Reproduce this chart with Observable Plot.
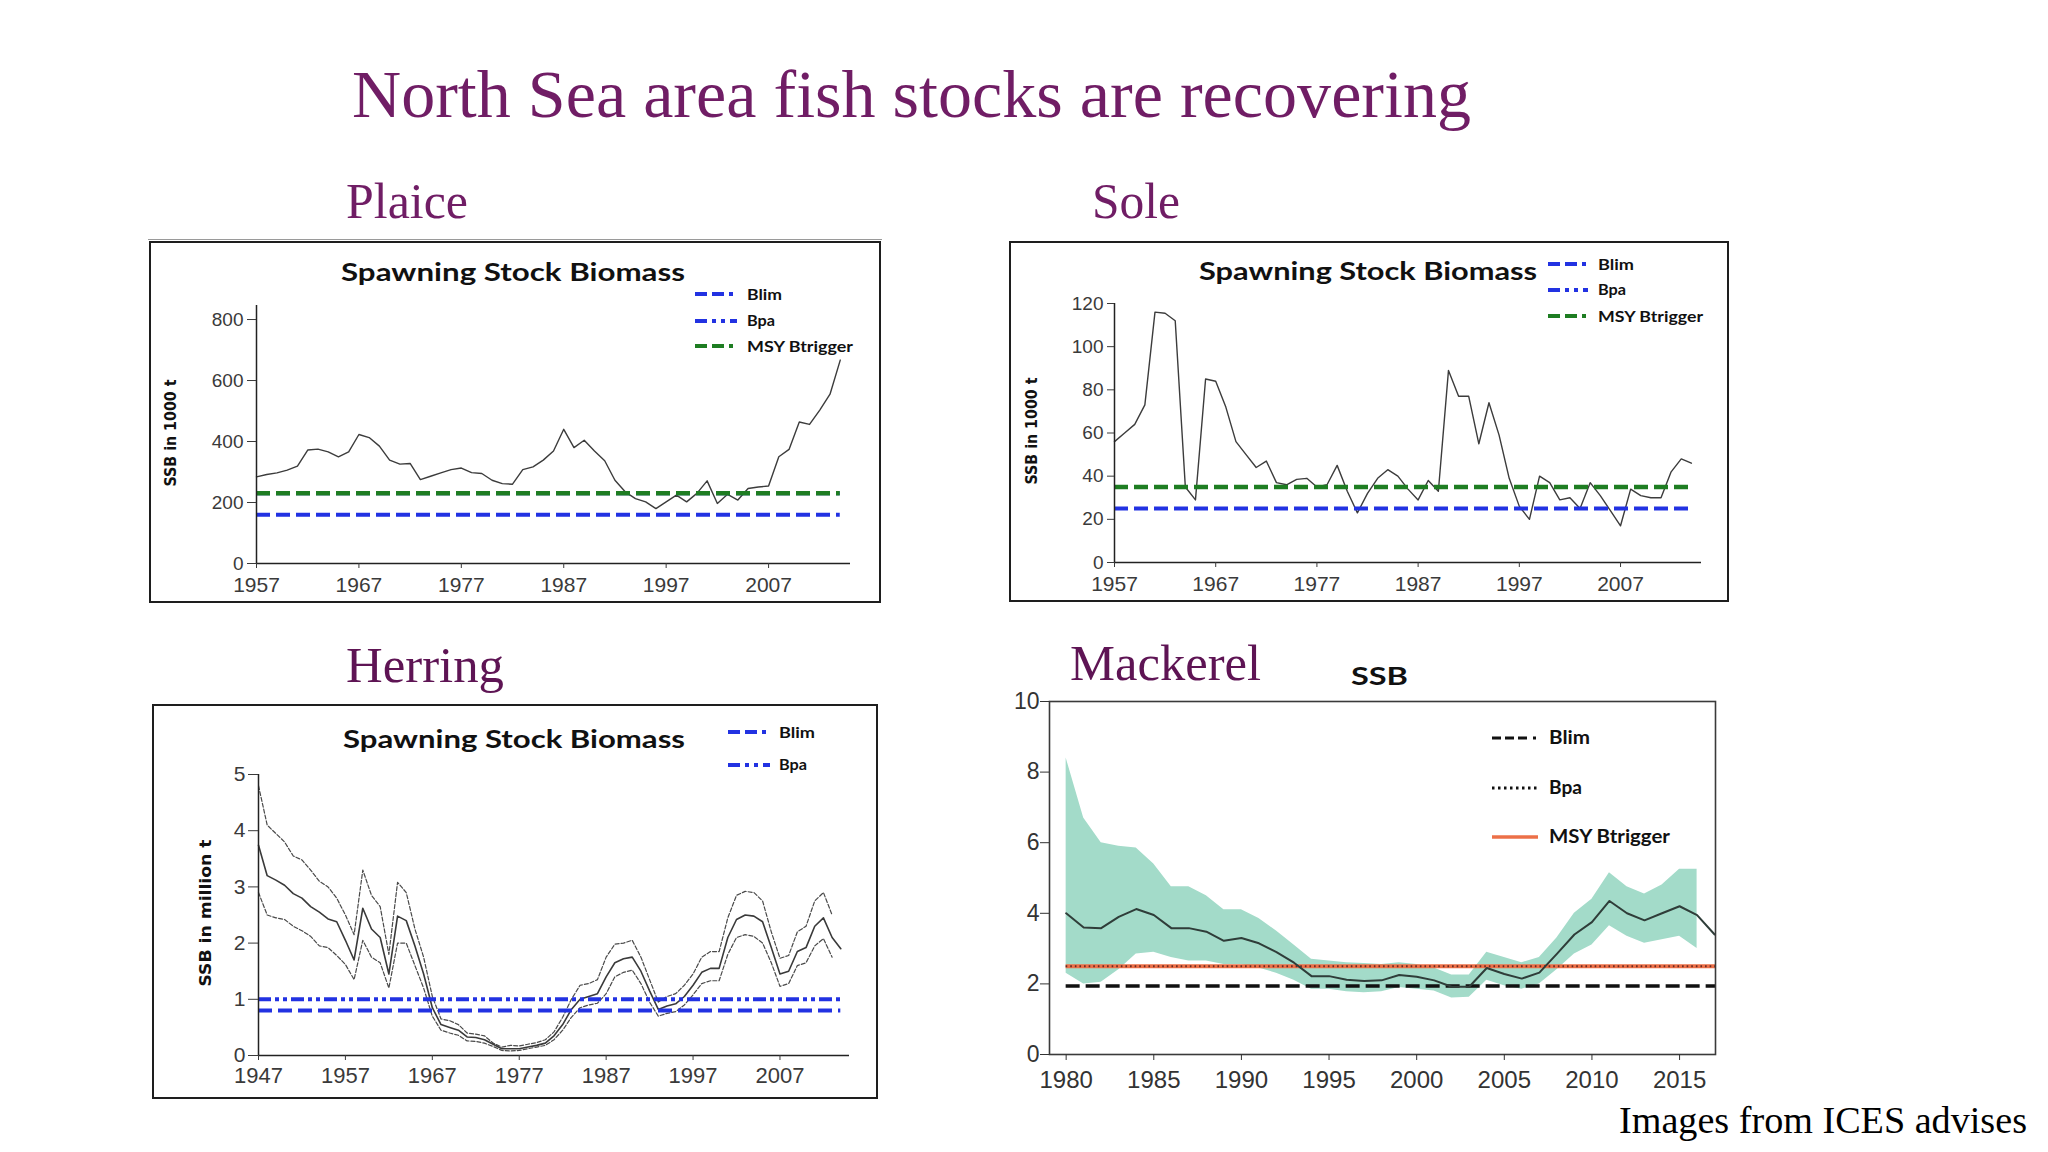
<!DOCTYPE html>
<html>
<head>
<meta charset="utf-8">
<script src="https://cdn.jsdelivr.net/npm/d3@7"></script>
<script src="https://cdn.jsdelivr.net/npm/@observablehq/plot@0.6"></script>
<style>
  html, body { margin: 0; padding: 0; background: #fff; }
  #page { position: relative; width: 2048px; height: 1152px; overflow: hidden; background: #fff; }
  .abs { position: absolute; }
</style>
</head>
<body>
<div id="page"></div>
<script>
// ---------------- DATA ----------------
// Plaice (SSB in 1000 t), 1957-2014
const plaiceStart = 1957;
const plaiceSSB = [284,292,297,306,319,372,375,366,350,366,
                   423,413,385,339,326,328,275,286,297,308,
                   313,298,295,273,262,260,308,317,339,369,
                   440,380,404,369,337,273,235,213,202,180,
                   202,224,202,230,271,197,227,208,246,251,
                   254,350,374,464,456,503,555,667];
const plaiceYTicks = [0,200,400,600,800];
const plaiceXTicks = [1957,1967,1977,1987,1997,2007];
const plaiceXDomain = [1957, 2015];
const plaiceYDomain = [0, 846];
const plaiceBlim = 160, plaiceBpa = 230, plaiceMSY = 230;

// Sole (SSB in 1000 t), 1957-2014
const soleStart = 1957;
const soleSSB = [56,60,64,73,116,115.5,112,35,29,85,
                 84,72,56,50,44,47,37,36,38.5,39,
                 35,36,45,33,23,32,39,43,40,34,
                 29,38,33,89,77,77,55,74,59,39,
                 26,20,40,37,29,30,25,37,31,24,
                 17,34,31,30,30,42,48,46];
const soleYTicks = [0,20,40,60,80,100,120];
const soleXTicks = [1957,1967,1977,1987,1997,2007];
const soleXDomain = [1957, 2015];
const soleYDomain = [0, 120];
const soleBlim = 25, soleBpa = 35, soleMSY = 35;

// Herring (SSB in million t), 1947-2014 (bounds to 2013)
const herringStart = 1947;
const herringSSB = [3.74,3.2,3.12,3.03,2.88,2.8,2.65,2.55,2.43,2.38,
                    2.05,1.7,2.62,2.25,2.1,1.45,2.48,2.4,1.95,1.45,
                    0.85,0.55,0.5,0.45,0.33,0.32,0.28,0.2,0.12,0.12,
                    0.12,0.15,0.18,0.22,0.35,0.55,0.82,1.0,1.05,1.1,
                    1.4,1.65,1.72,1.75,1.5,1.15,0.82,0.88,0.92,1.05,
                    1.25,1.48,1.55,1.55,2.1,2.42,2.5,2.48,2.38,1.92,
                    1.45,1.5,1.85,1.92,2.3,2.45,2.1,1.9];
const herringUpper = [4.8,4.1,3.95,3.8,3.55,3.48,3.3,3.1,3.0,2.8,
                      2.5,2.15,3.3,2.85,2.65,1.8,3.08,2.9,2.25,1.75,
                      1.05,0.65,0.62,0.55,0.4,0.38,0.35,0.22,0.15,0.18,
                      0.17,0.2,0.23,0.28,0.42,0.68,1.0,1.25,1.28,1.35,
                      1.75,1.98,2.0,2.05,1.75,1.35,0.95,1.05,1.1,1.25,
                      1.45,1.75,1.85,1.85,2.45,2.85,2.92,2.9,2.75,2.2,
                      1.73,1.78,2.2,2.3,2.75,2.9,2.5];
const herringLower = [2.9,2.5,2.45,2.42,2.3,2.22,2.12,1.95,1.92,1.78,
                      1.62,1.35,2.05,1.75,1.65,1.2,2.0,2.0,1.6,1.2,
                      0.7,0.45,0.4,0.36,0.26,0.25,0.22,0.16,0.09,0.08,
                      0.09,0.12,0.15,0.18,0.28,0.45,0.68,0.85,0.9,0.93,
                      1.1,1.4,1.48,1.52,1.28,0.95,0.7,0.75,0.78,0.9,
                      1.08,1.28,1.33,1.33,1.8,2.1,2.15,2.12,2.0,1.65,
                      1.23,1.28,1.6,1.65,1.95,2.08,1.75];
const herringYTicks = [0,1,2,3,4,5];
const herringXTicks = [1947,1957,1967,1977,1987,1997,2007];
const herringXDomain = [1947, 2015];
const herringYDomain = [0, 5];
const herringBlim = 0.8, herringBpa = 1.0;

// Mackerel (SSB, million t), 1980-2017 (band to 2016)
const mackStart = 1980;
const mackSSB = [4.0,3.6,3.58,3.9,4.12,3.95,3.58,3.58,3.48,3.22,
                 3.3,3.15,2.9,2.6,2.22,2.22,2.12,2.08,2.1,2.25,
                 2.2,2.1,1.92,1.92,2.45,2.28,2.15,2.32,2.85,3.4,
                 3.75,4.35,4.0,3.8,4.0,4.2,3.95,3.4];
const mackHigh = [8.4,6.7,6.0,5.9,5.85,5.4,4.75,4.75,4.5,4.1,
                  4.1,3.85,3.5,3.1,2.7,2.65,2.6,2.58,2.55,2.6,
                  2.55,2.45,2.25,2.25,2.9,2.75,2.6,2.75,3.3,4.0,
                  4.4,5.15,4.75,4.55,4.8,5.25,5.25];
const mackLow = [2.3,2.0,2.05,2.4,2.85,2.9,2.75,2.65,2.65,2.55,
                 2.55,2.45,2.3,2.1,1.85,1.85,1.78,1.75,1.78,1.9,
                 1.85,1.8,1.6,1.62,2.1,1.95,1.85,2.0,2.4,2.85,
                 3.1,3.65,3.35,3.15,3.25,3.35,3.0];
const mackYTicks = [0,2,4,6,8,10];
const mackXTicks = [1980,1985,1990,1995,2000,2005,2010,2015];
const mackXDomain = [1979.05, 2017.05];
const mackYDomain = [0, 10];
const mackBlim = 1.94, mackBpa = 2.5, mackMSY = 2.5;

// Texts
const slideTitle = "North Sea area fish stocks are recovering";
const stockNames = ["Plaice", "Sole", "Herring", "Mackerel"];
const chartTitle = "Spawning Stock Biomass";
const caption = "Images from ICES advises";

// ---------------- HELPERS ----------------
const page = document.getElementById("page");
const rows = (start, vals) => vals.map((v, i) => ({year: start + i, value: v}));
const fmt = d => `${d}`;
const BLUE = "#2232E2", GREEN = "#1E7D22";
const TICKFONT = "'Liberation Sans', Arial, Helvetica, sans-serif";

function place(node, left, top) {
  const d = document.createElement("div");
  d.className = "abs";
  d.style.left = left + "px";
  d.style.top = top + "px";
  d.appendChild(node);
  page.appendChild(d);
}
function box(l, t, r, b, border) {
  const d = document.createElement("div");
  d.className = "abs";
  d.style.left = l + "px"; d.style.top = t + "px";
  d.style.width = (r - l) + "px"; d.style.height = (b - t) + "px";
  d.style.boxSizing = "border-box";
  d.style.border = border;
  page.appendChild(d);
}
const ref = (value, x1, x2, stroke, strokeWidth, strokeDasharray) =>
  Plot.ruleY([value], {x1, x2, stroke, strokeWidth, strokeDasharray});

const baseStyle = {background: "transparent", fontFamily: TICKFONT, color: "#333", overflow: "visible"};

// ---------------- PLAICE ----------------
{
  const data = rows(plaiceStart, plaiceSSB);
  const last = data[data.length - 1].year;
  const p = Plot.plot({
    width: 730, height: 360,
    marginLeft: 106, marginRight: 30, marginTop: 63, marginBottom: 39,
    x: {domain: plaiceXDomain, label: null},
    y: {domain: plaiceYDomain, label: null},
    style: baseStyle,
    marks: [
      Plot.lineY(data, {x: "year", y: "value", stroke: "#3c3c3c", strokeWidth: 1.4}),
      ref(plaiceBlim, plaiceStart, last, BLUE, 4, "14,6"),
      ref(plaiceBpa, plaiceStart, last, BLUE, 4, "14,6"),
      ref(plaiceMSY, plaiceStart, last, GREEN, 4.5, "14,6"),
      Plot.ruleX([plaiceXDomain[0]], {stroke: "#222", strokeWidth: 1.5}),
      Plot.ruleY([plaiceYDomain[0]], {stroke: "#222", strokeWidth: 1.5}),
      Plot.axisY({ticks: plaiceYTicks, tickFormat: fmt, tickSize: 9, tickPadding: 4, fontSize: 19, label: null, color: "#3a3a3a"}),
      Plot.axisX({ticks: plaiceXTicks, tickFormat: fmt, tickSize: 5, tickPadding: 9, fontSize: 21, label: null, color: "#3a3a3a"})
    ]
  });
  place(p, 150, 242);
}

// ---------------- SOLE ----------------
{
  const data = rows(soleStart, soleSSB);
  const last = data[data.length - 1].year;
  const p = Plot.plot({
    width: 718, height: 359,
    marginLeft: 104, marginRight: 27, marginTop: 61, marginBottom: 39,
    x: {domain: soleXDomain, label: null},
    y: {domain: soleYDomain, label: null},
    style: baseStyle,
    marks: [
      Plot.lineY(data, {x: "year", y: "value", stroke: "#3c3c3c", strokeWidth: 1.4}),
      ref(soleBlim, soleStart, last, BLUE, 4, "14,6"),
      ref(soleBpa, soleStart, last, BLUE, 4, "14,6"),
      ref(soleMSY, soleStart, last, GREEN, 4.5, "14,6"),
      Plot.ruleX([soleXDomain[0]], {stroke: "#222", strokeWidth: 1.5}),
      Plot.ruleY([soleYDomain[0]], {stroke: "#222", strokeWidth: 1.5}),
      Plot.axisY({ticks: soleYTicks, tickFormat: fmt, tickSize: 7, tickPadding: 4, fontSize: 19, label: null, color: "#3a3a3a"}),
      Plot.axisX({ticks: soleXTicks, tickFormat: fmt, tickSize: 5, tickPadding: 9, fontSize: 21, label: null, color: "#3a3a3a"})
    ]
  });
  place(p, 1010, 242);
}

// ---------------- HERRING ----------------
{
  const mid = rows(herringStart, herringSSB);
  const up = rows(herringStart, herringUpper);
  const lo = rows(herringStart, herringLower);
  const last = mid[mid.length - 1].year;
  const p = Plot.plot({
    width: 723, height: 393,
    marginLeft: 105, marginRight: 27, marginTop: 69, marginBottom: 43,
    x: {domain: herringXDomain, label: null},
    y: {domain: herringYDomain, label: null},
    style: baseStyle,
    marks: [
      Plot.lineY(up, {x: "year", y: "value", stroke: "#4a4a4a", strokeWidth: 1.2, strokeDasharray: "4,2"}),
      Plot.lineY(lo, {x: "year", y: "value", stroke: "#4a4a4a", strokeWidth: 1.2, strokeDasharray: "4,2"}),
      Plot.lineY(mid, {x: "year", y: "value", stroke: "#3a3a3a", strokeWidth: 1.6}),
      ref(herringBlim, herringStart, last, BLUE, 4, "14,6"),
      ref(herringBpa, herringStart, last, BLUE, 4, "13,4,4,4,4,4"),
      Plot.ruleX([herringXDomain[0]], {stroke: "#222", strokeWidth: 1.5}),
      Plot.ruleY([herringYDomain[0]], {stroke: "#222", strokeWidth: 1.5}),
      Plot.axisY({ticks: herringYTicks, tickFormat: fmt, tickSize: 10, tickPadding: 3, fontSize: 21, label: null, color: "#3a3a3a"}),
      Plot.axisX({ticks: herringXTicks, tickFormat: fmt, tickSize: 5, tickPadding: 7, fontSize: 22, label: null, color: "#3a3a3a"})
    ]
  });
  place(p, 153, 705);
}

// ---------------- MACKEREL ----------------
{
  const line = rows(mackStart, mackSSB);
  const band = mackHigh.map((h, i) => ({year: mackStart + i, hi: h, lo: mackLow[i]}));
  const p = Plot.plot({
    width: 740, height: 424,
    marginLeft: 59, marginRight: 15, marginTop: 14, marginBottom: 57,
    x: {domain: mackXDomain, label: null},
    y: {domain: mackYDomain, label: null},
    style: baseStyle,
    marks: [
      Plot.areaY(band, {x: "year", y1: "lo", y2: "hi", fill: "#A3DBC9"}),
      ref(mackBlim, mackStart, mackXDomain[1], "#111", 3.5, "14,6"),
      ref(mackMSY, mackStart, mackXDomain[1], "#EC7048", 4),
      ref(mackBpa, mackStart, mackXDomain[1], "#6a2a22", 1.8, "1.6,3"),
      Plot.lineY(line, {x: "year", y: "value", stroke: "#2F3D39", strokeWidth: 2}),
      Plot.frame({stroke: "#3a3a3a", strokeWidth: 1.6}),
      Plot.axisY({ticks: mackYTicks, tickFormat: fmt, tickSize: 9, tickPadding: 1, fontSize: 23, label: null, color: "#333"}),
      Plot.axisX({ticks: mackXTicks, tickFormat: fmt, tickSize: 6, tickPadding: 10, fontSize: 24, label: null, color: "#333"})
    ]
  });
  place(p, 990, 687);
}

// ---------------- BOXES ----------------
{ const g = document.createElement("div"); g.className = "abs";
  g.style.cssText += "left:148px;top:239px;width:734px;height:1px;background:#9a9a9a"; page.appendChild(g); }
box(149, 241, 881, 603, "2px solid #1e1e1e");
box(1009, 241, 1729, 602, "2px solid #1e1e1e");
box(152, 704, 878, 1099, "2px solid #1e1e1e");

// ---------------- TEXT OVERLAY ----------------
const ov = d3.select(page).append("svg")
  .attr("width", 2048).attr("height", 1152)
  .style("position", "absolute").style("left", 0).style("top", 0)
  .style("pointer-events", "none");

function txt(s, x, y, o) {
  const t = ov.append("text").attr("x", x).attr("y", y).text(s)
    .attr("font-family", o.family).attr("font-size", o.size)
    .attr("font-weight", o.weight || "normal").attr("fill", o.color || "#000");
  if (o.len) t.attr("textLength", o.len).attr("lengthAdjust", "spacingAndGlyphs");
  if (o.rotate) t.attr("transform", `rotate(-90 ${x} ${y})`).attr("text-anchor", "middle").attr("dy", "0.35em");
  return t;
}
function sample(x1, x2, y, stroke, width, dash) {
  const l = ov.append("line").attr("x1", x1).attr("x2", x2).attr("y1", y).attr("y2", y)
    .attr("stroke", stroke).attr("stroke-width", width);
  if (dash) l.attr("stroke-dasharray", dash);
}

const SERIF = "'Liberation Serif', 'Times New Roman', Times, serif";
const CAL = "Lato, 'Open Sans', sans-serif";
const VERD = "'DejaVu Sans', Verdana, sans-serif";
const PURPLE = "#701D65", PURPLE2 = "#5E1454";

txt(slideTitle, 352, 117, {family: SERIF, size: 68, color: PURPLE, len: 1119});
txt(stockNames[0], 346, 218, {family: SERIF, size: 51, color: PURPLE, len: 122});
txt(stockNames[1], 1092, 218, {family: SERIF, size: 51, color: PURPLE, len: 88});
txt(stockNames[2], 346, 682, {family: SERIF, size: 51, color: PURPLE2, len: 158});
txt(stockNames[3], 1070, 680, {family: SERIF, size: 51, color: PURPLE2, len: 191});
txt(caption, 1619, 1133, {family: SERIF, size: 38, color: "#000", len: 408});

// chart titles
txt(chartTitle, 341, 281, {family: CAL, size: 25, weight: "bold", color: "#111", len: 344});
txt(chartTitle, 1199, 280, {family: CAL, size: 25, weight: "bold", color: "#111", len: 338});
txt(chartTitle, 343, 748, {family: CAL, size: 25, weight: "bold", color: "#111", len: 342});
txt("SSB", 1351, 685, {family: CAL, size: 25, weight: "bold", color: "#111", len: 57});

// y-axis labels
txt("SSB in 1000 t", 171, 433, {family: VERD, size: 15, weight: "bold", color: "#111", len: 107, rotate: true});
txt("SSB in 1000 t", 1032, 431, {family: VERD, size: 15, weight: "bold", color: "#111", len: 107, rotate: true});
txt("SSB in million t", 206, 913, {family: VERD, size: 15, weight: "bold", color: "#111", len: 147, rotate: true});

// legends - plaice
const legNames = ["Blim", "Bpa", "MSY Btrigger"];
sample(695, 737, 294, BLUE, 4, "12,5,12,5,4");
sample(695, 737, 321, BLUE, 4, "12,5,4,5,4,5");
sample(695, 737, 346, GREEN, 4, "12,5,12,5,4");
txt(legNames[0], 747, 300, {family: CAL, size: 15, weight: "bold", color: "#111", len: 35});
txt(legNames[1], 747, 326, {family: CAL, size: 15, weight: "bold", color: "#111", len: 28});
txt(legNames[2], 747, 352, {family: CAL, size: 15, weight: "bold", color: "#111", len: 106});
// legends - sole
sample(1548, 1588, 264, BLUE, 4, "12,5,12,5,4");
sample(1548, 1588, 290, BLUE, 4, "12,5,4,5,4,5");
sample(1548, 1588, 316, GREEN, 4, "12,5,12,5,4");
txt(legNames[0], 1598, 270, {family: CAL, size: 15, weight: "bold", color: "#111", len: 36});
txt(legNames[1], 1598, 295, {family: CAL, size: 15, weight: "bold", color: "#111", len: 28});
txt(legNames[2], 1598, 322, {family: CAL, size: 15, weight: "bold", color: "#111", len: 105});
// legends - herring
sample(728, 770, 732, BLUE, 4, "12,5,12,5,4");
sample(728, 770, 765, BLUE, 4, "12,5,4,5,4,5");
txt(legNames[0], 779, 738, {family: CAL, size: 15, weight: "bold", color: "#111", len: 36});
txt(legNames[1], 779, 770, {family: CAL, size: 15, weight: "bold", color: "#111", len: 28});
// legends - mackerel
sample(1492, 1538, 738, "#111", 3, "9,4,9,4,9,6,3");
sample(1492, 1538, 788, "#111", 3, "2.5,3.5");
sample(1492, 1538, 837, "#EC7048", 3.5);
txt(legNames[0], 1549, 744, {family: CAL, size: 18, weight: "bold", color: "#111", len: 41});
txt(legNames[1], 1549, 794, {family: CAL, size: 18, weight: "bold", color: "#111", len: 33});
txt(legNames[2], 1549, 843, {family: CAL, size: 18, weight: "bold", color: "#111", len: 121});
</script>
</body>
</html>
